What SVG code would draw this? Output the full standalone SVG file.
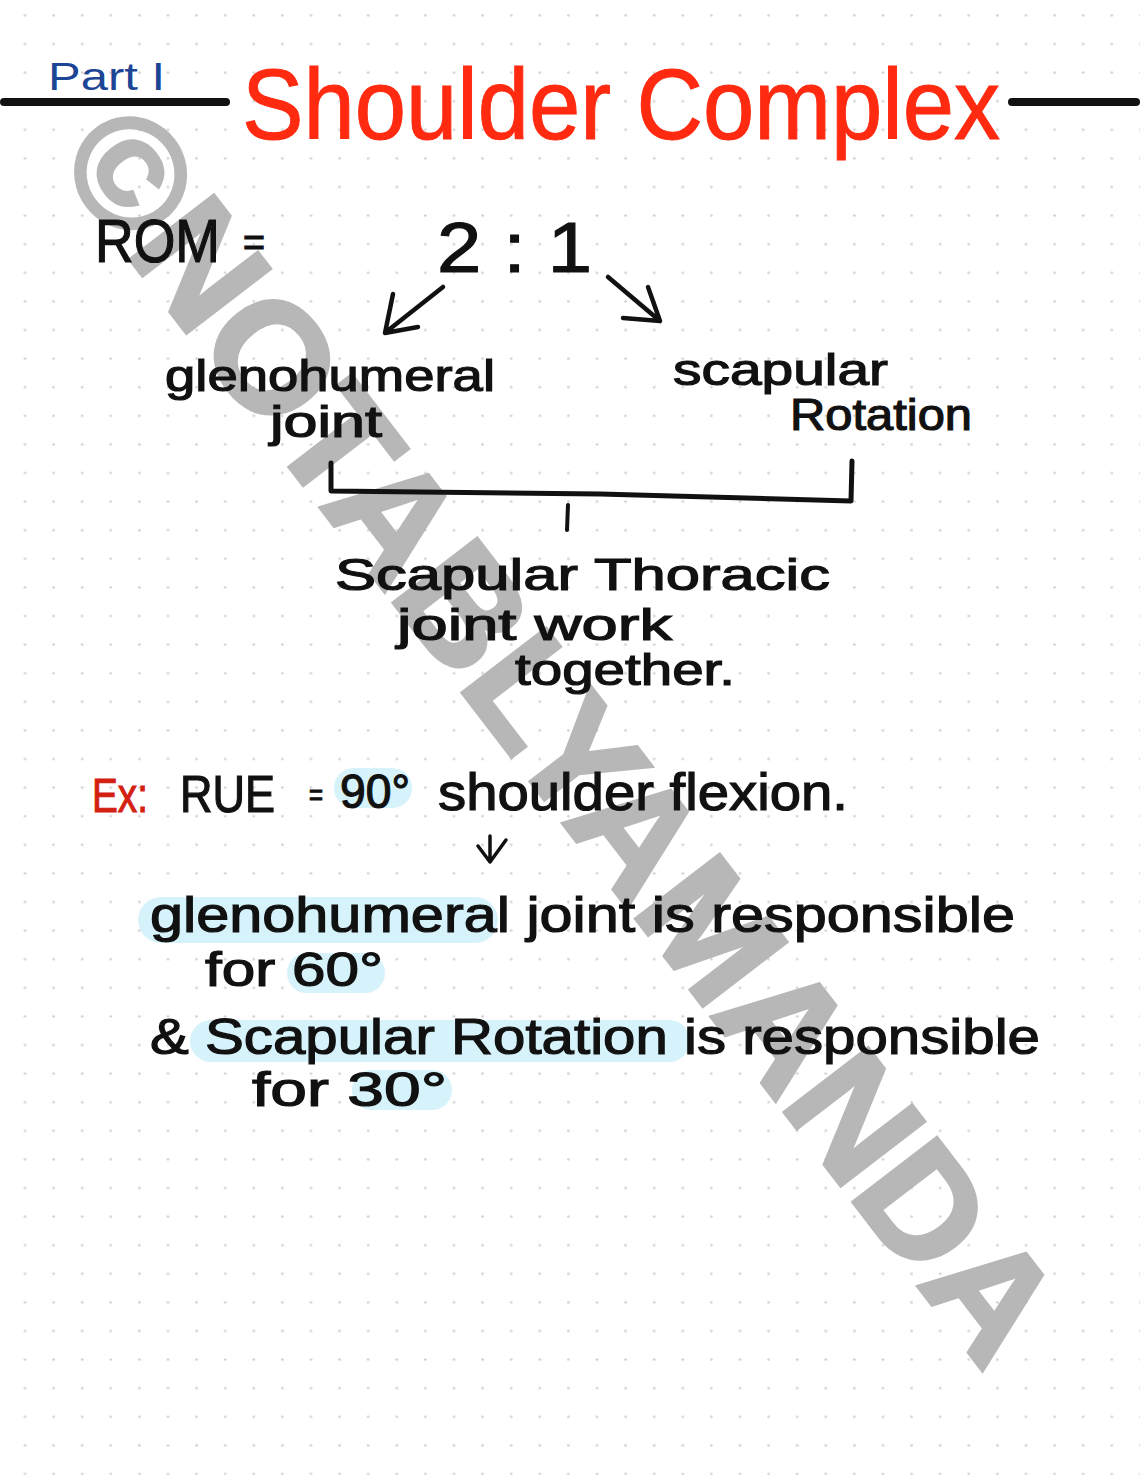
<svg xmlns="http://www.w3.org/2000/svg" width="1140" height="1475" viewBox="0 0 1140 1475">
<defs>
<pattern id="dots" patternUnits="userSpaceOnUse" x="10.7" y="29.7" width="28.6" height="28.6">
<circle cx="14.3" cy="14.3" r="1.3" fill="#cfcfcf"/>
</pattern>
<style>
.ink{font-family:"Liberation Sans","DejaVu Sans",sans-serif;fill:#111;stroke:#111;stroke-width:1.2;}
.red{font-family:"Liberation Sans","DejaVu Sans",sans-serif;fill:#ff2a10;stroke:#ff2a10;stroke-width:1;}
.hl{fill:#d6f2fb;}
.ln{fill:none;stroke:#111;stroke-linecap:round;stroke-linejoin:round;}
</style>
</defs>
<rect width="1140" height="1475" fill="#ffffff"/>
<rect width="1140" height="1475" fill="url(#dots)"/>

<g id="highlights">
<rect class="hl" x="334" y="768" width="78" height="40" rx="20"/>
<rect class="hl" x="138" y="897" width="360" height="46" rx="23"/>
<rect class="hl" x="287" y="953" width="98" height="40" rx="20"/>
<rect class="hl" x="190" y="1020" width="500" height="42" rx="21"/>
<rect class="hl" x="352" y="1070" width="100" height="40" rx="20"/>
</g>

<g id="watermark" transform="translate(563,733) rotate(52.5)" opacity="0.9">
<text x="0" y="0" dy="0.36em" text-anchor="middle" font-family="Liberation Sans, DejaVu Sans, sans-serif" font-weight="bold" font-size="153" fill="#b0b0b0" stroke="#b0b0b0" stroke-width="4" textLength="1530" lengthAdjust="spacingAndGlyphs">©NOTABLYAMANDA</text>
</g>

<g id="header">
<text x="48" y="90" font-family="Liberation Sans, DejaVu Sans, sans-serif" font-size="38" fill="#1c4595" textLength="117" lengthAdjust="spacingAndGlyphs">Part I</text>
<path class="ln" d="M4,102 L226,102" stroke-width="8"/>
<path class="ln" d="M1012,102 L1136,102" stroke-width="8"/>
<text class="red" x="242" y="139" font-size="100" textLength="758" lengthAdjust="spacingAndGlyphs">Shoulder Complex</text>
</g>

<g id="rom">
<text class="ink" x="95" y="262" font-size="62" textLength="125" lengthAdjust="spacingAndGlyphs">ROM</text>
<text class="ink" x="243" y="256" font-size="40" textLength="22" lengthAdjust="spacingAndGlyphs">=</text>
</g>
<g id="ratio">
<text class="ink" x="437" y="272" font-size="70" textLength="155" lengthAdjust="spacingAndGlyphs">2 : 1</text>
</g>
<g id="glenohumeral">
<text class="ink" x="165" y="391" font-size="44" textLength="330" lengthAdjust="spacingAndGlyphs">glenohumeral</text>
<text class="ink" x="270" y="437" font-size="44" textLength="112" lengthAdjust="spacingAndGlyphs">joint</text>
</g>
<g id="scapular-rotation">
<text class="ink" x="673" y="385" font-size="44" textLength="215" lengthAdjust="spacingAndGlyphs">scapular</text>
<text class="ink" x="790" y="430" font-size="44" textLength="182" lengthAdjust="spacingAndGlyphs">Rotation</text>
</g>
<g id="scapulothoracic">
<text class="ink" x="335" y="590" font-size="44" textLength="495" lengthAdjust="spacingAndGlyphs">Scapular Thoracic</text>
<text class="ink" x="397" y="640" font-size="44" textLength="275" lengthAdjust="spacingAndGlyphs">joint work</text>
<text class="ink" x="515" y="685" font-size="44" textLength="220" lengthAdjust="spacingAndGlyphs">together.</text>
</g>
<g id="example">
<text x="92" y="812" font-family="Liberation Sans, DejaVu Sans, sans-serif" font-size="48" fill="#d42010" stroke="#d42010" stroke-width="1" textLength="56" lengthAdjust="spacingAndGlyphs">Ex:</text>
<text class="ink" x="180" y="812" font-size="52" textLength="95" lengthAdjust="spacingAndGlyphs">RUE</text>
<text class="ink" x="309" y="805" font-size="30" textLength="14" lengthAdjust="spacingAndGlyphs">=</text>
<text class="ink" x="340" y="808" font-size="48" textLength="70" lengthAdjust="spacingAndGlyphs">90°</text>
<text class="ink" x="438" y="810" font-size="52" textLength="410" lengthAdjust="spacingAndGlyphs">shoulder flexion.</text>
</g>
<g id="gh-responsible">
<text class="ink" x="150" y="932" font-size="50" textLength="865" lengthAdjust="spacingAndGlyphs">glenohumeral joint is responsible</text>
<text class="ink" x="205" y="986" font-size="48" textLength="178" lengthAdjust="spacingAndGlyphs">for 60°</text>
</g>
<g id="scap-responsible">
<text class="ink" x="150" y="1054" font-size="50" textLength="890" lengthAdjust="spacingAndGlyphs">&amp; Scapular Rotation is responsible</text>
<text class="ink" x="252" y="1106" font-size="48" textLength="195" lengthAdjust="spacingAndGlyphs">for 30°</text>
</g>

<g id="connectors">
<path class="ln" stroke-width="4.5" d="M443,287 L386,332 M393,294 L385,333 L418,327"/>
<path class="ln" stroke-width="4.5" d="M608,277 L660,321 M648,287 L660,321 L623,318"/>
<path class="ln" stroke-width="5" d="M331,463 L331,491 L600,494 L851,501 L852,461"/>
<path class="ln" stroke-width="4" d="M568,505 L567,530"/>
<path class="ln" stroke-width="3.5" d="M490,836 L490,862 M478,846 L490,862 L506,840"/>
</g>
</svg>
